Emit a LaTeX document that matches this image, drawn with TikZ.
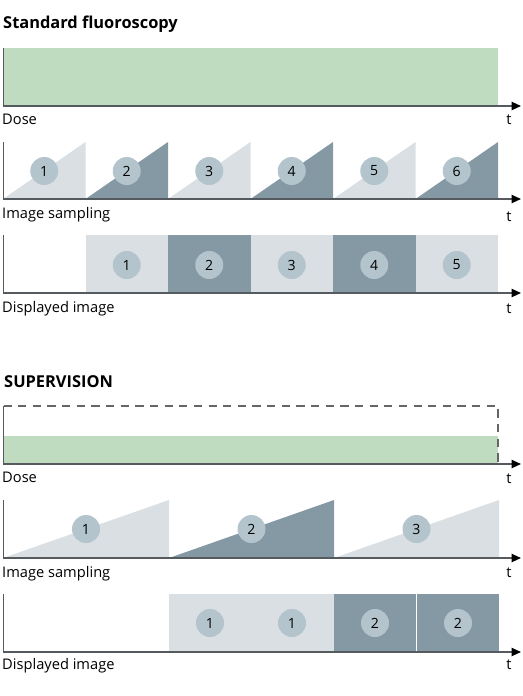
\documentclass[tikz,border=0pt]{standalone}
\usepackage{fontspec}
\setmainfont{Open Sans}
\usetikzlibrary{arrows.meta}
\definecolor{dosegreen}{HTML}{C0DCC0}
\definecolor{framelight}{HTML}{D9DFE3}
\definecolor{framedark}{HTML}{8599A5}
\definecolor{badgefill}{HTML}{B3C4CC}
\definecolor{axisgray}{HTML}{555A5E}
\definecolor{capgray}{HTML}{666666}

\tikzset{
  axis/.style={draw=axisgray,line width=1.3pt,-{Triangle[length=8pt,width=7pt,black]}},
  wall/.style={draw=axisgray,line width=0.9pt},
  dosecap/.style={draw=capgray,line width=1.1pt,dash pattern=on 7pt off 5.5pt},
  badge/.style={circle,fill=badgefill,minimum size=0.84cm,inner sep=0pt,font=\fontsize{12}{14}\selectfont},
  rowlabel/.style={anchor=base west,inner sep=0pt,font=\fontsize{12.5}{14}\selectfont},
  tlabel/.style={anchor=base,inner sep=0pt,font=\fontsize{12.5}{14}\selectfont},
  heading/.style={anchor=base west,inner sep=0pt,font=\bfseries\fontsize{14}{16}\selectfont}
}

\begin{document}
\begin{tikzpicture}[x=0.03cm,y=-0.03cm]
\useasboundingbox (0,0) rectangle (522,696);

% standard fluoroscopy
\node[heading] (stdtitle) at (3,28) {Standard fluoroscopy};
\fill[dosegreen] (3,48) rectangle (498,106);
\draw[wall] (3.5,48)--(3.5,106);
\draw[axis] (3,106)--(521,106);
\node[rowlabel] (stddose) at (2,124) {Dose};
\node[tlabel] (stddoset) at (509,124) {t};

\foreach \a/\b/\n/\c in {3/85.5/1/framelight,85.5/168/2/framedark,168/250.5/3/framelight,
  250.5/333/4/framedark,333/415.5/5/framelight,415.5/498/6/framedark}{
  \fill[\c] (\a,199)--(\b,199)--(\b,142)--cycle;
  \node[badge] (stdsamp\n) at ({(\a+\b)/2},171) {\n};
}
\draw[wall] (3.5,142)--(3.5,199);
\draw[axis] (3,199)--(521,199);
\node[rowlabel] (stdsampling) at (2,218) {Image sampling};
\node[tlabel] (stdsamplingt) at (509,221) {t};

\foreach \a/\b/\n/\c in {85.5/168/1/framelight,168/250.5/2/framedark,250.5/333/3/framelight,
  333/415.5/4/framedark,415.5/498/5/framelight}{
  \fill[\c] (\a,235) rectangle (\b,293);
  \node[badge] (stdshow\n) at ({(\a+\b)/2},265) {\n};
}
\draw[wall] (3.5,235)--(3.5,293);
\draw[axis] (3,293)--(521,293);
\node[rowlabel] (stdshown) at (2,312) {Displayed image};
\node[tlabel] (stdshownt) at (509,313) {t};

% supervision
\node[heading] (suptitle) at (4,387) {SUPERVISION};
\fill[dosegreen] (3,436) rectangle (498,464);
\draw[dosecap] (3.5,406)--(498,406)--(498,464);
\draw[wall] (3.5,406)--(3.5,464);
\draw[axis] (3,464)--(521,464);
\node[rowlabel] (supdose) at (2,482) {Dose};
\node[tlabel] (supdoset) at (509,483) {t};

\foreach \a/\b/\n/\c in {3/169/1/framelight,169/334/2/framedark,334/499/3/framelight}{
  \fill[\c] (\a,558)--(\b,558)--(\b,500)--cycle;
  \node[badge] (supsamp\n) at ({(\a+\b)/2},529) {\n};
}
\draw[wall] (3.5,500)--(3.5,558);
\draw[axis] (3,558)--(521,558);
\node[rowlabel] (supsampling) at (2,577) {Image sampling};
\node[tlabel] (supsamplingt) at (509,577) {t};

\fill[framelight] (169,594) rectangle (334,652);
\fill[framedark] (334,594) rectangle (499,652);
\draw[white,line width=0.6pt] (416.5,594)--(416.5,652);
\foreach \x/\n/\k in {210/1/a,292/1/b,375/2/c,458/2/d}
  \node[badge] (supshow\k) at (\x,623) {\n};
\draw[wall] (3.5,594)--(3.5,652);
\draw[axis] (3,652)--(521,652);
\node[rowlabel] (supshown) at (2,669) {Displayed image};
\node[tlabel] (supshownt) at (509,669) {t};
\end{tikzpicture}
\end{document}
